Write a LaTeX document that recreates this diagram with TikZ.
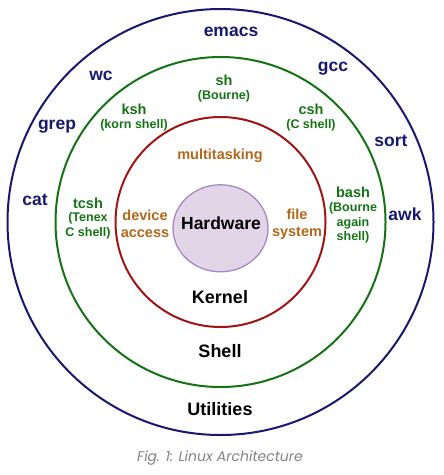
\documentclass[tikz,border=0pt]{standalone}
\usepackage{fontspec}
\setmainfont{Liberation Sans}
\newfontfamily\capfont{Poppins}
\definecolor{utilblue}{RGB}{24,24,110}
\definecolor{shellgreen}{RGB}{20,115,20}
\definecolor{kernred}{RGB}{160,20,20}
\definecolor{kernbrown}{RGB}{176,104,26}
\definecolor{hwfill}{RGB}{226,213,232}
\definecolor{hwline}{RGB}{168,136,192}
\definecolor{capgray}{RGB}{130,130,130}

\begin{document}
\begin{tikzpicture}[scale=0.35146]
\tikzstyle{every node}+=[inner sep=0pt, align=center]
\tikzstyle{util}=[text=utilblue, font=\bfseries\fontsize{17.5}{17.5}\selectfont]
\tikzstyle{shname}=[text=shellgreen, font=\bfseries\fontsize{14.5}{14.5}\selectfont]
\tikzstyle{shdesc}=[text=shellgreen, font=\bfseries\fontsize{12.5}{14.5}\selectfont]
\tikzstyle{kern}=[text=kernbrown, font=\bfseries\fontsize{14.5}{17}\selectfont]
\tikzstyle{layer}=[text=black, font=\bfseries\fontsize{18}{18}\selectfont]
\useasboundingbox (0,0) rectangle (44.3,-47.5);
\coordinate (c) at (22.05,-22.2);
\coordinate (hw) at (22.05,-22.83);
% rings
\draw [utilblue, line width=2pt] (c) circle (21.3);
\draw [shellgreen, line width=2pt] (c) circle (16.5);
\draw [kernred, line width=2pt] (c) circle (10.5);
\draw [hwline, fill=hwfill, line width=1.3pt] (hw) ellipse (4.75 and 4.35);
% utilities
\node (emacs) at (23.1,-3.2) [util] {emacs};
\node (wc) at (10.1,-7.6) [util] {wc};
\node (gcc) at (33.3,-6.9) [util] {gcc};
\node (grep) at (5.7,-12.7) [util] {grep};
\node (sort) at (39.1,-14.1) [util] {sort};
\node (cat) at (3.5,-20.0) [util] {cat};
\node (awk) at (40.5,-21.4) [util] {awk};
% shells
\node (sh) at (22.4,-8.0) [shname] {sh};
\node (shd) at (22.4,-9.6) [shdesc] {(Bourne)};
\node (ksh) at (13.4,-10.9) [shname] {ksh};
\node (kshd) at (13.4,-12.5) [shdesc] {(korn shell)};
\node (csh) at (31.1,-10.9) [shname] {csh};
\node (cshd) at (31.1,-12.5) [shdesc] {(C shell)};
\node (tcsh) at (8.8,-20.3) [shname] {tcsh};
\node (tcshd) at (8.8,-22.6) [shdesc] {(Tenex\\C shell)};
\node (bash) at (35.3,-19.2) [shname] {bash};
\node (bashd) at (35.3,-22.3) [shdesc] {(Bourne\\again\\shell)};
% kernel
\node (multi) at (22.0,-15.6) [kern] {multitasking};
\node (dev) at (14.5,-22.4) [kern] {device\\access};
\node (fs) at (29.7,-22.4) [kern] {file\\system};
% layers
\node (hwl) at (22.1,-22.3) [layer, font=\bfseries\fontsize{17.5}{17.5}\selectfont] {Hardware};
\node (kernel) at (22.0,-29.7) [layer] {Kernel};
\node (shell) at (22.0,-35.1) [layer] {Shell};
\node (utils) at (22.0,-40.9) [layer] {Utilities};
\node (cap) at (22.0,-45.8) [text=capgray, font=\capfont\itshape\fontsize{14}{14}\selectfont] {Fig. 1: Linux Architecture};
\end{tikzpicture}
\end{document}
